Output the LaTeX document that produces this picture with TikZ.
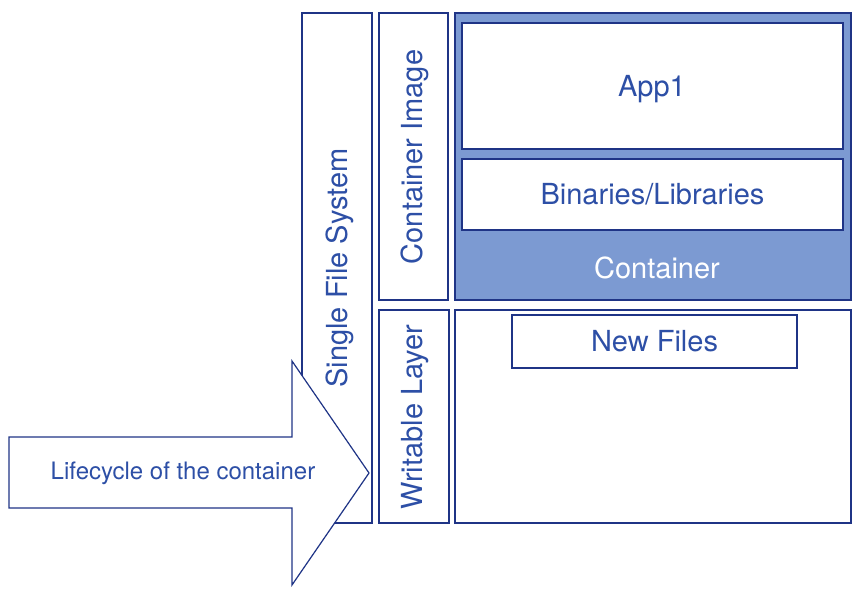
\documentclass[tikz,border=0pt]{standalone}
\usepackage{fontspec}
\setmainfont{TeX Gyre Heros}

\definecolor{boxline}{HTML}{1F3486}
\definecolor{boxtext}{HTML}{2D4FA6}
\definecolor{contfill}{HTML}{7C9AD2}

\tikzset{layer/.style={draw=boxline,line width=1.2pt,fill=white,inner sep=0pt,text=boxtext,font=\fontsize{29}{34}\selectfont}}
\tikzset{vlabel/.style={text=boxtext,inner sep=0pt,rotate=90,font=\fontsize{29}{34}\selectfont}}

\begin{document}
\begin{tikzpicture}[x=1pt,y=-1pt]
        \useasboundingbox (0,0) rectangle (862,596);
        % left columns
        \node[layer,minimum width=70,minimum height=510] (sfs) at (337,268) {};
        \node[vlabel] (sfslabel) at (340,268) {Single File System};
        \node[layer,minimum width=69,minimum height=287] (image) at (413.5,156.5) {};
        \node[vlabel] (imagelabel) at (415,157) {Container Image};
        \node[layer,minimum width=70,minimum height=213] (writable) at (414,416.5) {};
        \node[vlabel] (writablelabel) at (415,417) {Writable Layer};
        % the container
        \node[layer,fill=contfill,minimum width=396,minimum height=287] (container) at (653,156.5) {};
        \node[layer,minimum width=381,minimum height=126] (app) at (652.5,86) {};
        \node[text=boxtext,font=\fontsize{29}{34}\selectfont] (applabel) at (652,89) {App1};
        \node[layer,minimum width=381,minimum height=71] (bins) at (652.5,194.5) {Binaries/Libraries};
        \node[text=white,font=\fontsize{29}{34}\selectfont] (contlabel) at (657,268) {Container};
        % the writable area
        \node[layer,minimum width=396,minimum height=213] (area) at (653,416.5) {};
        \node[layer,minimum width=285,minimum height=53] (newfiles) at (654.5,341.5) {New Files};
        % the lifecycle arrow
        \draw[boxline,line width=1.2pt,fill=white] (9,437) -- (292,437) -- (292,361) -- (369,473) -- (292,585) -- (292,508) -- (9,508) -- cycle;
        \node[text=boxtext,font=\fontsize{24}{29}\selectfont] (life) at (183,473) {Lifecycle of the container};
\end{tikzpicture}
\end{document}
